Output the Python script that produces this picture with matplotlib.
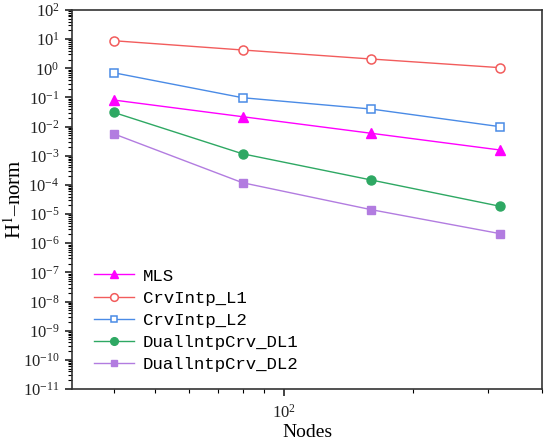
import matplotlib
matplotlib.use("Agg")
import matplotlib.pyplot as plt
from matplotlib.ticker import LogLocator, NullFormatter

plt.rcParams['mathtext.fontset'] = 'stix'
plt.rcParams['font.family'] = ['Liberation Serif', 'DejaVu Serif']

nodes = [40, 80, 160, 320]
mls = [0.0818, 0.0219, 0.00589, 0.00157]
crv_l1 = [8.85, 4.25, 2.08, 1.05]
crv_l2 = [0.706, 0.098, 0.040, 0.0099]
dual_dl1 = [0.0309, 0.00117, 1.47e-4, 1.84e-5]
dual_dl2 = [0.0057, 1.19e-4, 1.41e-5, 2.12e-6]
labels = ['MLS', 'CrvIntp_L1', 'CrvIntp_L2', 'DuallntpCrv_DL1', 'DuallntpCrv_DL2']

fig = plt.figure(figsize=(5.5, 4.42), dpi=100)
ax = fig.add_axes([72/550, 1-389/442, 470/550, 379/442])

lw = 1.0
ax.plot(nodes, mls, color='#FF00FF', marker='^', ms=7.5, lw=lw, label=labels[0])
ax.plot(nodes, crv_l1, color='#F25C5C', marker='o', ms=6.5, mfc='white', mew=1.1, lw=lw, label=labels[1])
ax.plot(nodes, crv_l2, color='#4A8BE6', marker='s', ms=5.8, mfc='white', mew=1.1, lw=lw, label=labels[2])
ax.plot(nodes, dual_dl1, color='#2EA863', marker='o', ms=6.5, lw=lw, label=labels[3])
ax.plot(nodes, dual_dl2, color='#B27CE0', marker='s', ms=5.8, lw=lw, label=labels[4])

ax.set_xscale('log')
ax.set_yscale('log')
ax.set_xlim(32, 400)
ax.set_ylim(1e-11, 1e2)

ax.yaxis.set_major_locator(LogLocator(base=10, numticks=20))
ax.yaxis.set_minor_locator(LogLocator(base=10, subs=range(2, 10), numticks=200))
ax.yaxis.set_minor_formatter(NullFormatter())
ax.xaxis.set_minor_formatter(NullFormatter())

ax.tick_params(axis='both', which='major', direction='out', length=5, width=1.2, labelsize=12, colors='#222222')
ax.tick_params(axis='x', which='major', pad=6)
ax.tick_params(axis='y', which='major', pad=4)
ax.tick_params(axis='both', which='minor', direction='out', length=3, width=0.8)
for s in ax.spines.values():
    s.set_linewidth(1.2)
    s.set_color('#333333')

ax.set_xlabel('Nodes', fontsize=14, labelpad=1)
ax.set_ylabel('H$^{1}$\u2013norm', fontsize=15)
ax.yaxis.set_label_coords(-0.098, 0.5)

leg = ax.legend(loc='lower left', bbox_to_anchor=(0.021, 0.013), frameon=False,
                prop={'family': ['Liberation Mono'], 'size': 12.5},
                handlelength=2.3, handletextpad=0.5, labelspacing=0.4,
                borderaxespad=0.3, markerscale=0.85)

fig.savefig('out.png', dpi=100)
